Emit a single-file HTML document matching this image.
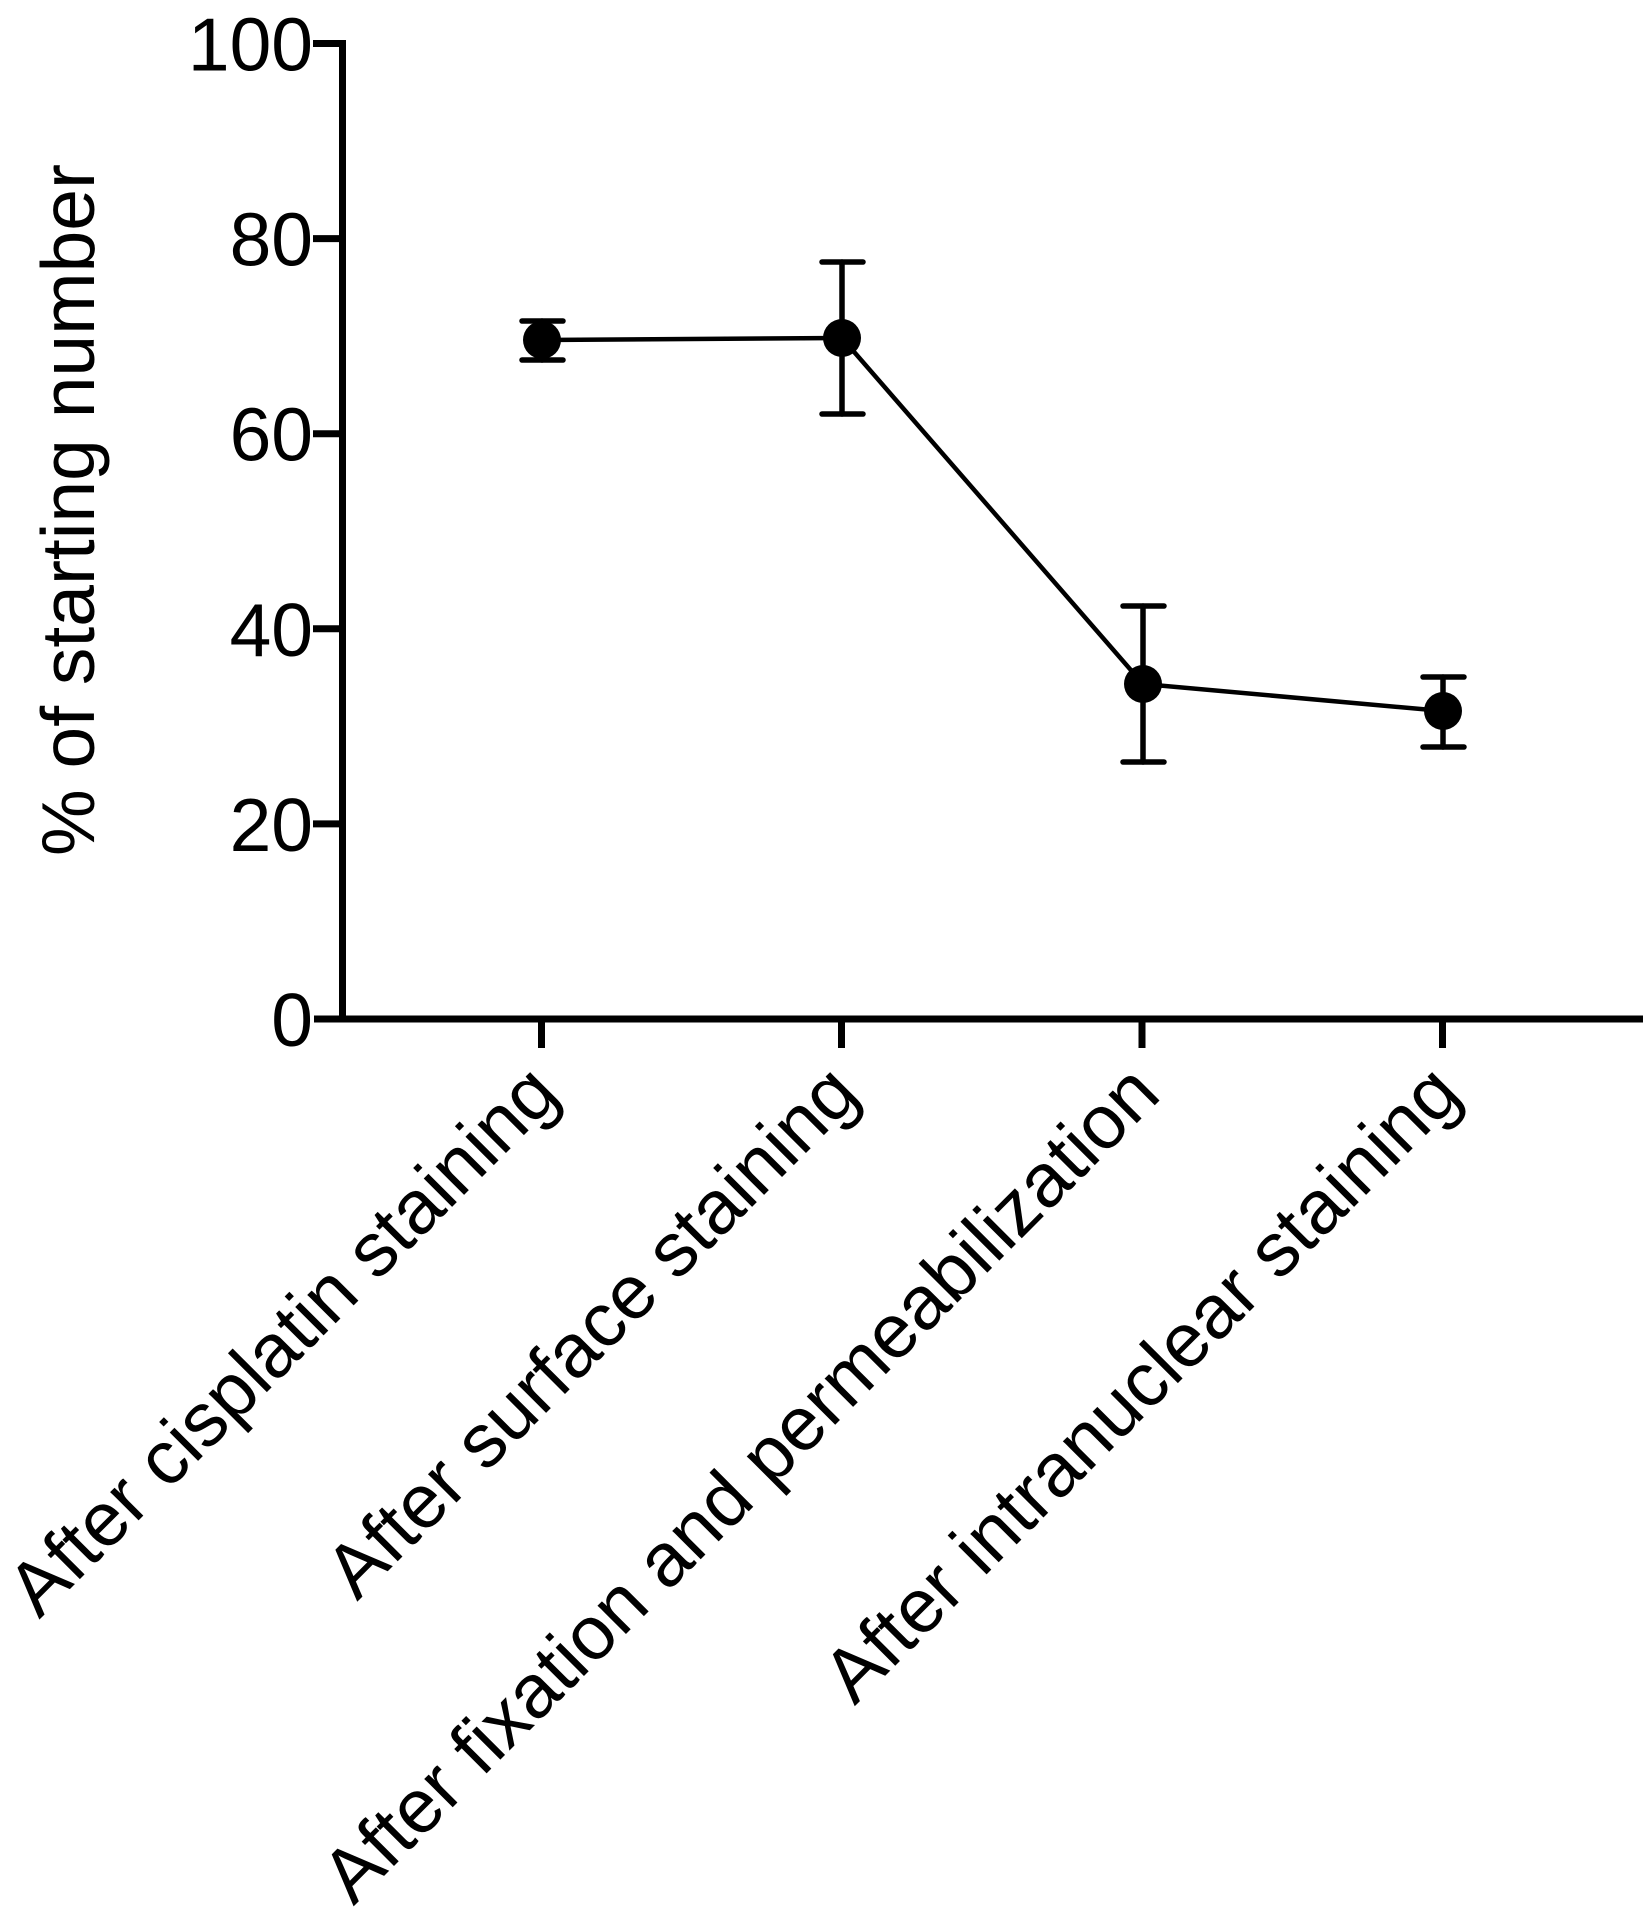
<!DOCTYPE html>
<html>
<head>
<meta charset="utf-8">
<style>
html,body{margin:0;padding:0;background:#fff;}
svg{display:block;}
text{font-family:"Liberation Sans",Arial,sans-serif;fill:#000;}
</style>
</head>
<body>
<svg width="1652" height="1919" viewBox="0 0 1652 1919" xmlns="http://www.w3.org/2000/svg">
<rect width="1652" height="1919" fill="#fff"/>
<!-- axes -->
<g stroke="#000" stroke-width="7" stroke-linecap="butt" fill="none">
  <line x1="342.5" y1="40" x2="342.5" y2="1022.5"/>
  <line x1="314" y1="1019" x2="1643" y2="1019"/>
  <!-- y ticks -->
  <line x1="313" y1="43.5" x2="346" y2="43.5"/>
  <line x1="313" y1="238.6" x2="342" y2="238.6"/>
  <line x1="313" y1="433.7" x2="342" y2="433.7"/>
  <line x1="313" y1="628.8" x2="342" y2="628.8"/>
  <line x1="313" y1="823.9" x2="342" y2="823.9"/>
  <!-- x ticks -->
  <line x1="541.5" y1="1019" x2="541.5" y2="1048"/>
  <line x1="841.5" y1="1019" x2="841.5" y2="1048"/>
  <line x1="1142" y1="1019" x2="1142" y2="1048"/>
  <line x1="1442.5" y1="1019" x2="1442.5" y2="1048"/>
</g>
<!-- y tick labels -->
<g font-size="75" text-anchor="end">
  <text x="313" y="70.5">100</text>
  <text x="313" y="265.6">80</text>
  <text x="313" y="460.7">60</text>
  <text x="313" y="655.8">40</text>
  <text x="313" y="850.9">20</text>
  <text x="313" y="1046">0</text>
</g>
<!-- y axis title -->
<text font-size="75" transform="translate(94,856) rotate(-90)">% of starting number</text>
<!-- x tick labels -->
<g font-size="76" text-anchor="end">
  <text transform="translate(562,1097) rotate(-45)">After cisplatin staining</text>
  <text transform="translate(862,1097) rotate(-45)">After surface staining</text>
  <text transform="translate(1163,1097) rotate(-45)">After fixation and permeabilization</text>
  <text transform="translate(1464,1097) rotate(-45)">After intranuclear staining</text>
</g>
<!-- error bars -->
<g stroke="#000" stroke-width="5.5" fill="none" stroke-linecap="round">
  <line x1="542" y1="321" x2="542" y2="360"/>
  <line x1="522" y1="321" x2="563" y2="321"/>
  <line x1="522" y1="360" x2="563" y2="360"/>
  <line x1="842" y1="262" x2="842" y2="414"/>
  <line x1="822" y1="262" x2="863" y2="262"/>
  <line x1="822" y1="414" x2="863" y2="414"/>
  <line x1="1143" y1="606" x2="1143" y2="762"/>
  <line x1="1123" y1="606" x2="1164" y2="606"/>
  <line x1="1123" y1="762" x2="1164" y2="762"/>
  <line x1="1443" y1="677" x2="1443" y2="747"/>
  <line x1="1423" y1="677" x2="1464" y2="677"/>
  <line x1="1423" y1="747" x2="1464" y2="747"/>
</g>
<!-- connecting line -->
<polyline points="542,340 842,338 1143,684 1443,711" stroke="#000" stroke-width="4.5" fill="none" stroke-linejoin="round"/>
<!-- markers -->
<g fill="#000">
  <circle cx="542" cy="340" r="19"/>
  <circle cx="842" cy="338" r="19"/>
  <circle cx="1143" cy="684" r="19"/>
  <circle cx="1443" cy="711" r="19"/>
</g>
</svg>
</body>
</html>
